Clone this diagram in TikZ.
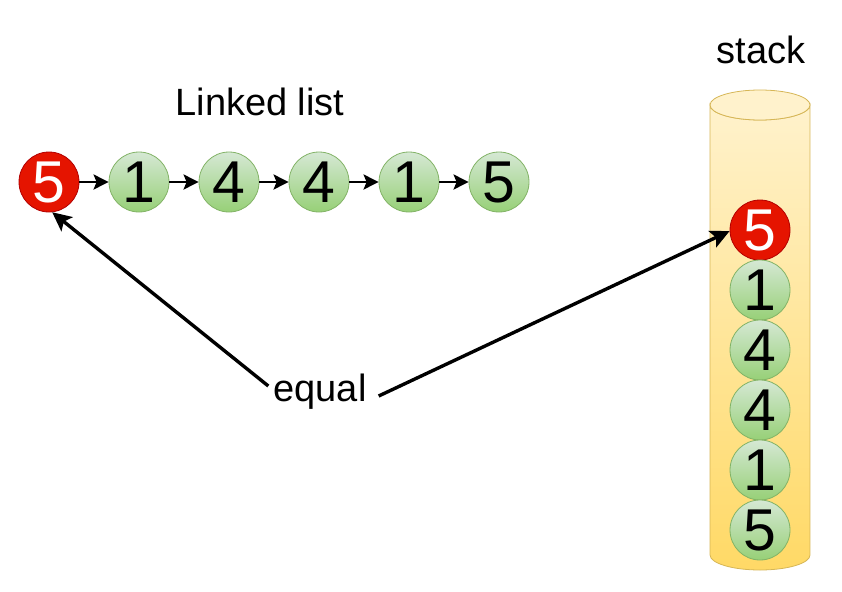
\documentclass[tikz,border=0pt]{standalone}
\usepackage{fontspec}
\setmainfont{Liberation Sans}
\usetikzlibrary{arrows.meta}
\definecolor{gtop}{HTML}{D5E8D4}
\definecolor{gbot}{HTML}{97D077}
\definecolor{gline}{HTML}{82B366}
\definecolor{rfill}{HTML}{E51400}
\definecolor{rline}{HTML}{B20000}
\definecolor{ytop}{HTML}{FFF2CC}
\definecolor{ybot}{HTML}{FFD966}
\definecolor{yline}{HTML}{D6B656}
\begin{document}
\begin{tikzpicture}[x=1pt,y=-1pt,
  digit/.style={circle,minimum size=60pt,inner sep=0pt,line width=0.8pt,font=\fontsize{59}{59}\selectfont},
  gnode/.style={digit,draw=gline,top color=gtop,bottom color=gbot,text=black},
  rnode/.style={digit,draw=rline,fill=rfill,text=white},
  label/.style={inner sep=0pt,font=\fontsize{38}{38}\selectfont},
  sarr/.style={line width=2.6pt,-{Stealth[length=15pt,width=15pt,inset=3pt]}},
  barr/.style={line width=3.4pt,-{Stealth[length=19pt,width=18pt,inset=4pt]}}]
\useasboundingbox (0,0) rectangle (842,591);
% stack cylinder
\path[top color=ytop,bottom color=ybot,draw=yline,line width=0.8pt]
  (710,105) -- (710,555) arc[start angle=180,end angle=0,x radius=50,y radius=15]
  -- (810,105) arc[start angle=0,end angle=180,x radius=50,y radius=15] -- cycle;
\draw[fill=ytop,draw=yline,line width=0.8pt] (760,105) ellipse[x radius=50,y radius=15];
% labels
\node[label] (ll) at (260,102) {Linked list};
\node[label] (stk) at (761,50) {stack};
\node[label] (eq) at (320,392) {equal};
% linked list
\node[rnode] (l1) at (49,182) {5};
\node[gnode] (l2) at (139,182) {1};
\node[gnode] (l3) at (229,182) {4};
\node[gnode] (l4) at (319,182) {4};
\node[gnode] (l5) at (409,182) {1};
\node[gnode] (l6) at (499,182) {5};
\draw[sarr] (l1) -- (l2);
\draw[sarr] (l2) -- (l3);
\draw[sarr] (l3) -- (l4);
\draw[sarr] (l4) -- (l5);
\draw[sarr] (l5) -- (l6);
% stack items
\node[rnode] (s1) at (760,230) {5};
\node[gnode] (s2) at (760,290) {1};
\node[gnode] (s3) at (760,350) {4};
\node[gnode] (s4) at (760,410) {4};
\node[gnode] (s5) at (760,470) {1};
\node[gnode] (s6) at (760,530) {5};
% equal arrows
\draw[barr] ([xshift=-5pt,yshift=6pt]eq.west) -- (l1.-84);
\draw[barr] ([xshift=12pt,yshift=-4pt]eq.east) -- (s1.182);
\end{tikzpicture}
\end{document}
